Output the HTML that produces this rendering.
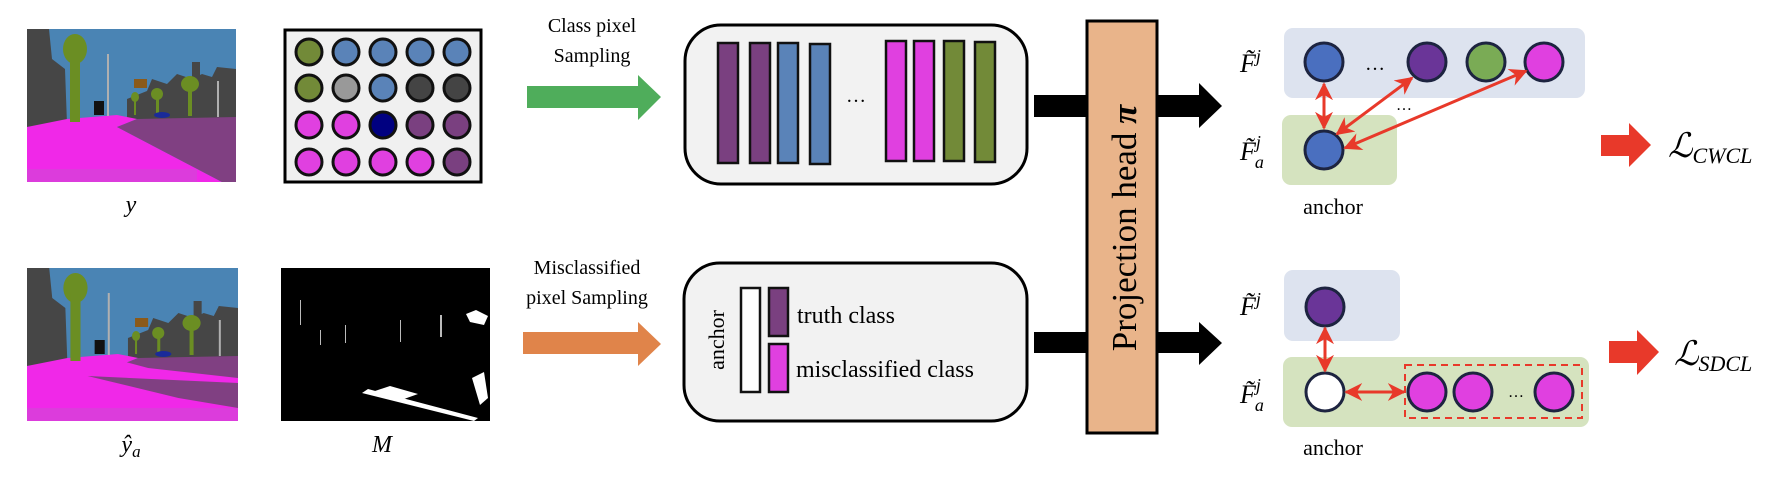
<!DOCTYPE html>
<html><head><meta charset="utf-8"><style>
html,body{margin:0;padding:0;background:#fff;}
svg{display:block;}
text{font-family:"Liberation Serif",serif;}
</style></head><body>
<svg width="1778" height="478" viewBox="0 0 1778 478" xmlns="http://www.w3.org/2000/svg">
<defs>
<g id="scene">
  <rect x="0" y="0" width="209" height="153" fill="#4a84b4"/>
  <polygon points="0,0 22,0 25,30 38,40 40,95 0,98" fill="#464646"/>
  <polygon points="100,70 120,62 125,50 140,55 150,45 165,50 175,45 185,48 190,38 209,40 209,90 100,90" fill="#464646"/>
  <rect x="165" y="33" width="8" height="20" fill="#464646"/>
  <rect x="107" y="50" width="13" height="9" fill="#8b5a1a"/>
  <polygon points="0,98 40,90 90,86 110,90 90,98 195,153 0,153" fill="#f028e8"/>
  <polygon points="90,98 110,90 209,88 209,153 195,153" fill="#804082"/>
  <rect x="0" y="140" width="170" height="13" fill="#dc3cdc"/>
  <ellipse cx="48" cy="20" rx="12" ry="15" fill="#6b8e23"/>
  <rect x="43" y="25" width="10" height="68" fill="#6b8e23"/>
  <ellipse cx="163" cy="55" rx="9" ry="8" fill="#6b8e23"/><rect x="161" y="55" width="4" height="32" fill="#6b8e23"/>
  <ellipse cx="130" cy="65" rx="6" ry="6" fill="#6b8e23"/><rect x="129" y="65" width="3" height="22" fill="#6b8e23"/>
  <ellipse cx="108" cy="68" rx="4" ry="5" fill="#6b8e23"/><rect x="107" y="68" width="2" height="18" fill="#6b8e23"/>
  <rect x="80" y="25" width="2" height="62" fill="#b0b0b0"/>
  <rect x="190" y="52" width="2" height="36" fill="#b0b0b0"/>
  <ellipse cx="135" cy="86" rx="8" ry="3" fill="#1a2a9a"/>
  <rect x="67" y="72" width="10" height="14" fill="#111"/>
</g>
<marker id="ra" viewBox="0 0 10 10" refX="9" refY="5" markerWidth="6" markerHeight="6" orient="auto-start-reverse"><path d="M0,0 L10,5 L0,10 L3,5 z" fill="#e8392a"/></marker>
</defs>

<!-- images -->
<svg x="27" y="29" width="209" height="153" viewBox="0 0 209 153"><use href="#scene"/></svg>
<svg x="27" y="268" width="211" height="153" viewBox="0 0 209 153" preserveAspectRatio="none"><use href="#scene"/>
  <polygon points="0,100 90,92 120,100 209,110 209,153 0,153" fill="#f028e8"/>
  <polygon points="60,108 209,115 209,140 150,130" fill="#804082"/>
  <rect x="0" y="140" width="209" height="13" fill="#dc3cdc"/>
</svg>
<text x="131" y="212" font-size="24" font-style="italic" text-anchor="middle">y</text>
<text x="131" y="452" font-size="24" font-style="italic" text-anchor="middle">ŷ<tspan font-size="17" dy="5">a</tspan></text>

<!-- circle grid -->
<rect x="285" y="30" width="196" height="152" fill="#f0f0f0" stroke="#000" stroke-width="3"/>
<g stroke="#111" stroke-width="3">
 <circle cx="309" cy="52" r="13" fill="#728a38"/><circle cx="346" cy="52" r="13" fill="#5a83b8"/><circle cx="383" cy="52" r="13" fill="#5a83b8"/><circle cx="420" cy="52" r="13" fill="#5a83b8"/><circle cx="457" cy="52" r="13" fill="#5a83b8"/>
 <circle cx="309" cy="88" r="13" fill="#728a38"/><circle cx="346" cy="88" r="13" fill="#999"/><circle cx="383" cy="88" r="13" fill="#5a83b8"/><circle cx="420" cy="88" r="13" fill="#444"/><circle cx="457" cy="88" r="13" fill="#444"/>
 <circle cx="309" cy="125" r="13" fill="#e040e0"/><circle cx="346" cy="125" r="13" fill="#e040e0"/><circle cx="383" cy="125" r="13" fill="#000080"/><circle cx="420" cy="125" r="13" fill="#7a4080"/><circle cx="457" cy="125" r="13" fill="#7a4080"/>
 <circle cx="309" cy="162" r="13" fill="#e040e0"/><circle cx="346" cy="162" r="13" fill="#e040e0"/><circle cx="383" cy="162" r="13" fill="#e040e0"/><circle cx="420" cy="162" r="13" fill="#e040e0"/><circle cx="457" cy="162" r="13" fill="#7a4080"/>
</g>

<!-- M mask -->
<rect x="281" y="268" width="209" height="153" fill="#000"/>
<polygon points="362,393 368,389 478,418 474,421" fill="#fff"/>
<polygon points="372,392 390,386 418,394 404,399" fill="#fff"/>
<polygon points="466,314 476,310 488,316 484,325 470,322" fill="#fff"/>
<polygon points="472,378 484,372 488,398 480,405" fill="#fff"/>
<g fill="#bbb"><rect x="320" y="330" width="1" height="15"/><rect x="345" y="325" width="1" height="18"/><rect x="400" y="320" width="1" height="22"/><rect x="300" y="300" width="1" height="25"/><rect x="440" y="315" width="2" height="22"/></g>
<text x="382" y="452" font-size="24" font-style="italic" text-anchor="middle">M</text>

<!-- sampling arrows -->
<text x="592" y="32" font-size="20" text-anchor="middle">Class pixel</text>
<text x="592" y="62" font-size="20" text-anchor="middle">Sampling</text>
<polygon points="527,86 638,86 638,75 661,97 638,120 638,108 527,108" fill="#4fad5b"/>
<text x="587" y="274" font-size="20" text-anchor="middle">Misclassified</text>
<text x="587" y="304" font-size="20" text-anchor="middle">pixel Sampling</text>
<polygon points="523,332 638,332 638,322 661,344 638,366 638,354 523,354" fill="#e0844a"/>

<!-- top rounded box -->
<rect x="685" y="25" width="342" height="159" rx="36" fill="#f2f2f2" stroke="#000" stroke-width="3"/>
<g stroke="#111" stroke-width="2.5">
 <rect x="718" y="43" width="20" height="120" fill="#7a4080"/>
 <rect x="750" y="43" width="20" height="120" fill="#7a4080"/>
 <rect x="778" y="43" width="20" height="120" fill="#5a83b8"/>
 <rect x="810" y="44" width="20" height="120" fill="#5a83b8"/>
 <rect x="886" y="41" width="20" height="120" fill="#e040e0"/>
 <rect x="914" y="41" width="20" height="120" fill="#e040e0"/>
 <rect x="944" y="41" width="20" height="120" fill="#728a38"/>
 <rect x="975" y="42" width="20" height="120" fill="#728a38"/>
</g>
<text x="856" y="102" font-size="20" text-anchor="middle">…</text>

<!-- bottom rounded box -->
<rect x="684" y="263" width="343" height="158" rx="36" fill="#f2f2f2" stroke="#000" stroke-width="3"/>
<text transform="translate(724,340) rotate(-90)" font-size="22" text-anchor="middle">anchor</text>
<rect x="741" y="288" width="19" height="104" fill="#fff" stroke="#111" stroke-width="2.5"/>
<rect x="769" y="288" width="19" height="48" fill="#7a4080" stroke="#111" stroke-width="2.5"/>
<rect x="769" y="344" width="19" height="48" fill="#e040e0" stroke="#111" stroke-width="2.5"/>
<text x="797" y="323" font-size="24">truth class</text>
<text x="796" y="377" font-size="24">misclassified class</text>

<!-- black arrows -->
<polygon points="1034,95 1199,95 1199,83 1222,106 1199,128 1199,117 1034,117" fill="#000"/>
<polygon points="1034,332 1199,332 1199,322 1222,343 1199,365 1199,353 1034,353" fill="#000"/>

<!-- projection head -->
<rect x="1087" y="21" width="70" height="412" fill="#e9b48a" stroke="#000" stroke-width="3"/>
<text transform="translate(1136,228) rotate(-90)" font-size="35" text-anchor="middle">Projection head <tspan font-weight="bold" font-style="italic">π</tspan></text>

<!-- top right panel -->
<rect x="1284" y="28" width="301" height="70" rx="9" fill="#dde3ef"/>
<rect x="1282" y="115" width="115" height="70" rx="9" fill="#d5e3bf"/>
<text x="1240" y="72" font-size="26" font-style="italic">F̃<tspan font-size="18" dy="-10">j</tspan></text>
<text x="1240" y="160" font-size="26" font-style="italic">F̃<tspan font-size="18" dy="-12">j</tspan><tspan font-size="18" dx="-6" dy="20">a</tspan></text>
<g stroke="#1d2440" stroke-width="3">
 <circle cx="1324" cy="62" r="19" fill="#4a6fbf"/>
 <circle cx="1427" cy="62" r="19" fill="#6a3598"/>
 <circle cx="1486" cy="62" r="19" fill="#7aab55"/>
 <circle cx="1544" cy="62" r="19" fill="#e040e0"/>
 <circle cx="1324" cy="150" r="19" fill="#4a6fbf"/>
</g>
<text x="1375" y="70" font-size="20" text-anchor="middle">…</text>
<text x="1404" y="110" font-size="16" text-anchor="middle">…</text>
<g stroke="#e8392a" stroke-width="3" fill="none" marker-start="url(#ra)" marker-end="url(#ra)">
 <line x1="1324" y1="84" x2="1324" y2="128"/>
 <line x1="1337" y1="134" x2="1412" y2="78"/>
 <line x1="1345" y1="148" x2="1526" y2="71"/>
</g>
<text x="1333" y="214" font-size="22" text-anchor="middle">anchor</text>
<polygon points="1601,135 1629,135 1629,123 1651,145 1629,167 1629,156 1601,156" fill="#e8392a"/>
<text x="1668" y="157" font-size="34" font-style="italic">ℒ<tspan font-size="22" dy="6">CWCL</tspan></text>

<!-- bottom right panel -->
<rect x="1284" y="270" width="116" height="71" rx="9" fill="#dde3ef"/>
<rect x="1283" y="357" width="306" height="70" rx="9" fill="#d5e3bf"/>
<text x="1240" y="315" font-size="26" font-style="italic">F̃<tspan font-size="18" dy="-10">j</tspan></text>
<text x="1240" y="403" font-size="26" font-style="italic">F̃<tspan font-size="18" dy="-12">j</tspan><tspan font-size="18" dx="-6" dy="20">a</tspan></text>
<rect x="1405" y="365" width="177" height="53" fill="none" stroke="#e8392a" stroke-width="2" stroke-dasharray="7,5"/>
<g stroke="#1d2440" stroke-width="3">
 <circle cx="1325" cy="307" r="19" fill="#6a3598"/>
 <circle cx="1325" cy="392" r="19" fill="#fff"/>
 <circle cx="1427" cy="392" r="19" fill="#e040e0"/>
 <circle cx="1473" cy="392" r="19" fill="#e040e0"/>
 <circle cx="1554" cy="392" r="19" fill="#e040e0"/>
</g>
<text x="1516" y="397" font-size="16" text-anchor="middle">…</text>
<g stroke="#e8392a" stroke-width="3" fill="none" marker-start="url(#ra)" marker-end="url(#ra)">
 <line x1="1325" y1="328" x2="1325" y2="371"/>
 <line x1="1346" y1="392" x2="1404" y2="392"/>
</g>
<text x="1333" y="455" font-size="22" text-anchor="middle">anchor</text>
<polygon points="1609,341 1637,341 1637,330 1659,352 1637,375 1637,363 1609,363" fill="#e8392a"/>
<text x="1674" y="365" font-size="34" font-style="italic">ℒ<tspan font-size="22" dy="6">SDCL</tspan></text>
</svg>
</body></html>
